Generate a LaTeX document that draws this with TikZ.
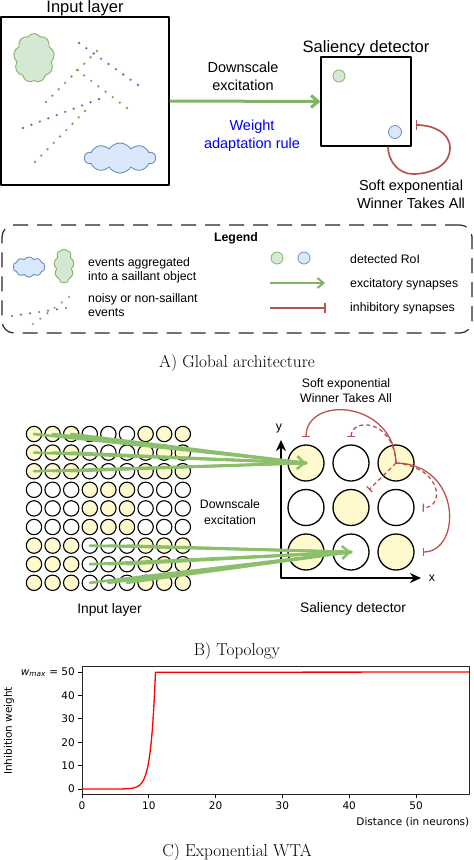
\documentclass[tikz,border=0pt]{standalone}
\usepackage{fontspec}
\newfontfamily\arial{Liberation Sans}
\newfontfamily\djv{DejaVu Sans}
\usetikzlibrary{shapes.symbols,arrows.meta,calc}
\definecolor{dgreen}{HTML}{82B366}
\definecolor{lgreen}{HTML}{D5E8D4}
\definecolor{dblue}{HTML}{6C8EBF}
\definecolor{lblue}{HTML}{DAE8FC}
\definecolor{inhib}{HTML}{B85450}
\definecolor{nyellow}{HTML}{FFFACD}
\definecolor{wblue}{HTML}{0000EE}
\definecolor{fangreen}{HTML}{8CBF6C}
\definecolor{dotblue}{HTML}{5B74B5}
\definecolor{dotgreen}{HTML}{7FA85F}
\begin{document}
\begin{tikzpicture}[x=1pt,y=-1pt, line join=round,
  ttltext/.style={font=\arial\fontsize{16.5}{19}\selectfont, inner sep=0, anchor=base},
  alab/.style={font=\arial\fontsize{14.5}{18}\selectfont, inner sep=0, align=center},
  leg/.style={font=\arial\fontsize{12.3}{13.5}\selectfont, inner sep=0, align=left},
  blab/.style={font=\arial\fontsize{12.3}{15.8}\selectfont, inner sep=0, align=center},
  bbig/.style={font=\arial\fontsize{13.8}{16}\selectfont, inner sep=0, anchor=base},
  captext/.style={font=\fontsize{17.2}{20}\selectfont, inner sep=0, anchor=base},
  plab/.style={font=\djv\fontsize{10.5}{12}\selectfont, inner sep=0},
  excite/.style={draw=dgreen, line width=3pt},
  exciteArrow/.style={excite, -{Straight Barb[length=7pt,width=12pt]}},
  exciteB/.style={draw=fangreen, line width=2.6pt, line cap=round},
  exciteArrowB/.style={exciteB, -{Straight Barb[length=7pt,width=13pt]}},
  inhibit/.style={draw=inhib, line width=1.7pt, -{Bar[width=10pt]}},
  inhibB/.style={draw=inhib, line width=1.3pt, -{Bar[width=8pt]}},
  inhibBd/.style={inhibB, dash pattern=on 4pt off 3pt},
  inneuron/.style={circle, draw=black, line width=1.1pt, minimum size=15.4pt, inner sep=0},
  salneuron/.style={circle, draw=black, line width=1.3pt, minimum size=36pt, inner sep=0},
  roi/.style={circle, line width=0.8pt, minimum size=12pt, inner sep=0},
  panelbox/.style={draw=black, line width=1.2pt, inner sep=0},
  cloudg/.style={cloud, cloud puffs=9, cloud puff arc=115, draw=dgreen, fill=lgreen, line width=0.9pt, inner sep=0},
  cloudb/.style={cloud, cloud puffs=10, cloud puff arc=115, draw=dblue, fill=lblue, line width=0.9pt, inner sep=0},
  axisline/.style={draw=black, line width=2pt, {Stealth[length=11pt,width=10pt]}-{Stealth[length=11pt,width=10pt]}},
]
\useasboundingbox (0,0) rectangle (474,860);

% ================= Panel A =================
\node[ttltext] (tin) at (85,12.5) {Input layer};
\node[panelbox, minimum width=168pt, minimum height=168pt] (inbox) at (85,101) {};
\node[cloudg, minimum width=41pt, minimum height=49pt, aspect=0.84] (cg) at (34,58) {};
\node[cloudb, minimum width=71pt, minimum height=30pt, aspect=2.3] (cb) at (120,158) {};
% noisy events
\foreach \t in {0,...,8}{\fill[dotblue] ($(79,43)!\t/8!(138,85)$) circle (1.3);}
\foreach \t in {0,...,9}{\fill[dotblue] ($(23,128)!\t/9!(99,99)$) circle (1.3);}
\foreach \t in {0,...,8}{\fill[dotgreen] ($(46,102)!\t/8!(97,51)$) circle (1.3);}
\foreach \t in {0,...,7}{\fill[dotgreen] ($(77,70)!\t/7!(127,108)$) circle (1.3);}
\foreach \t in {0,...,8}{\fill[dotgreen] ($(35,162)!\t/8!(85,111)$) circle (1.3);}

\node[ttltext] (tsal) at (366,52) {Saliency detector};
\node[panelbox, minimum width=90pt, minimum height=89pt] (salbox) at (366,101.5) {};
\node[roi, draw=dgreen, fill=lgreen] (roig) at (339,76) {};
\node[roi, draw=dblue, fill=lblue, minimum size=13pt] (roib) at (395,132) {};

\draw[exciteArrow] (inbox.east) -- (salbox.west);
\node[alab] (ldown) at (243,75.9) {Downscale\\excitation};
\node[alab, text=wblue] (lweight) at (252,135.6) {Weight\\adaptation rule};

\coordinate (loopstart) at ($(salbox.south)+(22,0)$);
\coordinate (loopend) at ($(salbox.east)+(4,23.5)$);
\draw[inhibit] (loopstart) to[out=-90,in=180] (413,174) to[out=0,in=-90] (450,148) to[out=90,in=0] (loopend);
\node[alab] (lsoft) at (411,194.2) {Soft exponential\\Winner Takes All};

% Legend
\node[draw=black!85, line width=1.2pt, dash pattern=on 15pt off 9pt, rounded corners=12pt,
      minimum width=470pt, minimum height=108pt, inner sep=0] (legbox) at (237,279) {};
\node[font=\arial\bfseries\fontsize{12.3}{14}\selectfont, inner sep=0, anchor=base] (legt) at (236,241) {Legend};
\node[cloudb, minimum width=32pt, minimum height=20pt, aspect=1.6] (lcb) at (29,267) {};
\node[cloudg, minimum width=20pt, minimum height=34pt, aspect=0.6] (lcg) at (64,266) {};
\node[leg, anchor=west] (lev1) at (88,270.5) {events aggregated\\into a saillant object};
\foreach \t in {0,...,6}{\fill[dotblue] ($(12,316)!\t/6!(66,308)$) circle (1.2);}
\foreach \t in {0,...,5}{\fill[dotgreen] ($(33,324)!\t/5!(69,297)$) circle (1.2);}
\node[leg, anchor=west] (lev2) at (88,305.3) {noisy or non-saillant\\events};

\node[roi, draw=dgreen, fill=lgreen] (lrg) at (277,258) {};
\node[roi, draw=dblue, fill=lblue] (lrb) at (304,258) {};
\node[leg, anchor=base west] (lroi) at (350,263) {detected RoI};
\coordinate (lexa) at (270,283);
\coordinate (lexb) at (325,283);
\draw[excite, line width=2pt, -{Straight Barb[length=6pt,width=10pt]}] (lexa) -- (lexb);
\node[leg, anchor=base west] (lexc) at (350,287) {excitatory synapses};
\coordinate (lina) at (270,307.7);
\coordinate (linb) at (326,307.7);
\draw[inhibit, line width=1.6pt] (lina) -- (linb);
\node[leg, anchor=base west] (linh) at (350,311) {inhibitory synapses};

\node[captext] (capA) at (237,367.3) {A) Global architecture};

% ================= Panel B =================
\foreach \r in {1,...,9}{
 \foreach \c in {1,...,9}{
  \pgfmathtruncatemacro{\blk}{mod(int((\r-1)/3)+int((\c-1)/3),2)}
  \ifnum\blk=0 \def\nf{nyellow}\else\def\nf{white}\fi
  \node[inneuron, fill=\nf] (i-\r-\c) at ({34+(\c-1)*18.6},{434+(\r-1)*18.6}) {};
 }}
\foreach \r in {1,2,3}{
 \foreach \c in {1,2,3}{
  \pgfmathtruncatemacro{\blk}{mod(\r+\c,2)}
  \ifnum\blk=0 \def\nf{nyellow}\else\def\nf{white}\fi
  \node[salneuron, fill=\nf] (s-\r-\c) at ({306+(\c-1)*45},{463+(\r-1)*44.5}) {};
 }}

\coordinate (orig) at (281,578);
\coordinate (ytip) at (281,440);
\coordinate (xtip) at (421,578);
\draw[axisline] (ytip) -- (orig) -- (xtip);
\node[blab] (ly) at (279,429) {y};
\node[blab] (lx) at (432,578.5) {x};

\foreach \r in {1,2,3}{
 \foreach \c in {1,2,3}{
  \ifnum\r\c=22 \def\st{exciteArrowB}\else\def\st{exciteB}\fi
  \draw[\st] (i-\r-\c.center) -- (s-1-1.center);
 }}
\foreach \r in {7,8,9}{
 \foreach \c in {4,5,6}{
  \ifnum\r\c=85 \def\st{exciteArrowB}\else\def\st{exciteB}\fi
  \draw[\st] (i-\r-\c.center) -- (s-3-2.center);
 }}

\draw[inhibB] (s-1-3.center) .. controls (394,400) and (306,395) .. ($(s-1-1.north)+(0,-7)$);
\draw[inhibBd] (s-1-3.center) .. controls (393,418) and (351,418) .. ($(s-1-2.north)+(0,-7)$);
\draw[inhibBd] (s-1-3.center) -- ($(s-1-3.center)!0.6!(s-2-2.center)$);
\draw[inhibB] (s-1-3.center) .. controls (462,464) and (462,552) .. ($(s-3-3.east)+(8,0)$);
\draw[inhibBd] (s-1-3.center) .. controls (444,468) and (444,508.5) .. ($(s-2-3.east)+(8,0)$);

\node[blab] (lsoftB) at (346,390.5) {Soft exponential\\Winner Takes All};
\node[blab] (ldownB) at (230,511.8) {Downscale\\excitation};
\node[bbig] (linB) at (109.5,613) {Input layer};
\node[bbig] (lsalB) at (353,612) {Saliency detector};

\node[captext] (capB) at (237,655) {B) Topology};

% ================= Panel C =================
\begin{scope}[xshift=82pt, yshift=-789pt, x=6.68pt, y=2.34pt]
  \draw[draw=black!85, line width=0.8pt] (0,-2.14) rectangle (58,52.56);
  \foreach \v in {0,10,20,30,40}{
    \draw[line width=0.8pt] (0,\v) -- ++(-4pt,0);
    \node[plab, anchor=east] (yt\v) at (-1.05,\v) {\v};
  }
  \draw[line width=0.8pt] (0,50) -- ++(-4pt,0);
  \node[plab, anchor=east] (yt50) at (-1.05,50) {\textit{w}\textsubscript{\textit{max}} = 50};
  \foreach \u in {0,10,20,30,40,50}{
    \draw[line width=0.8pt] (\u,-2.14) -- ++(0,-4pt);
    \node[plab, anchor=north] (xt\u) at (\u,-2.14) [yshift=-7pt] {\u};
  }
  \draw[red, line width=1.3pt, line join=round] plot[domain=0:11, samples=120] (\x,{50*exp((\x-11)/0.7)}) -- (58,50);
  \node[plab, anchor=base east] (xlab) at (58,-15.8) {Distance (in neurons)};
  \node[plab, rotate=90] (ylab) at (-10.93,24.8) {Inhibition weight};
\end{scope}

\node[captext] (capC) at (237,856) {C) Exponential WTA};
\end{tikzpicture}
\end{document}
